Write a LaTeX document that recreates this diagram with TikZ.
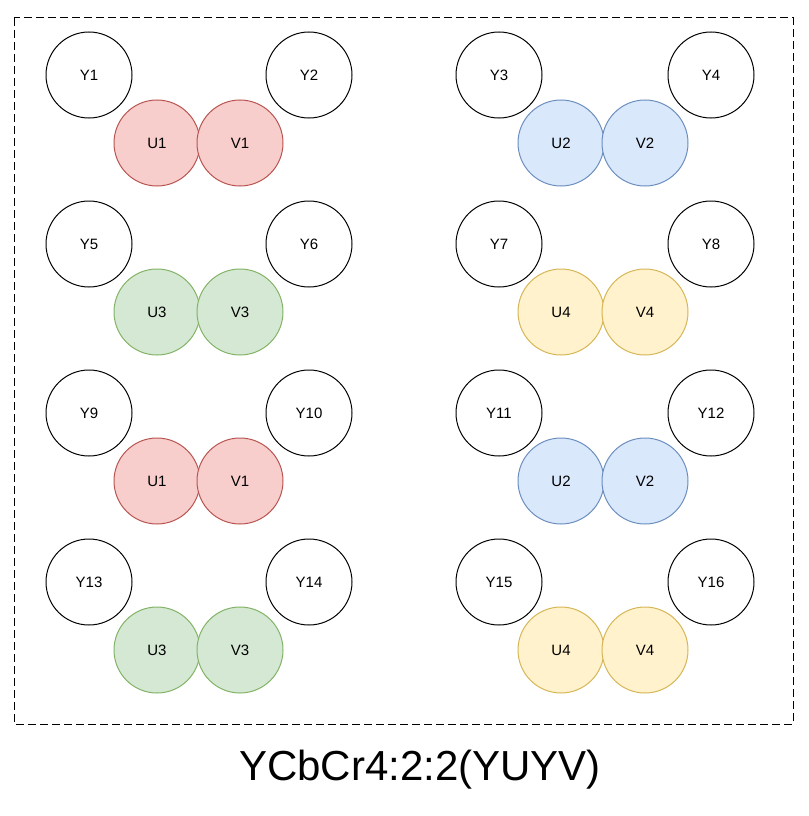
\documentclass[tikz,border=0pt]{standalone}
\usepackage{fontspec}
\setmainfont{Liberation Sans}
\begin{document}
\begin{tikzpicture}[x=1pt,y=-1pt,
 c/.style={circle,draw,line width=1pt,minimum size=86pt,inner sep=0pt,font=\fontsize{15}{18}\selectfont},
 yc/.style={c,fill=white,draw=black},
 red/.style={c,fill={rgb,255:red,248;green,206;blue,204},draw={rgb,255:red,184;green,84;blue,80}},
 blu/.style={c,fill={rgb,255:red,218;green,232;blue,252},draw={rgb,255:red,108;green,142;blue,191}},
 grn/.style={c,fill={rgb,255:red,213;green,232;blue,212},draw={rgb,255:red,130;green,179;blue,102}},
 yel/.style={c,fill={rgb,255:red,255;green,242;blue,204},draw={rgb,255:red,214;green,182;blue,86}}]
\useasboundingbox (0,0) rectangle (808,816);
\draw[dashed,line width=1pt,dash pattern=on 8pt off 4pt] (14,18) rectangle (793,724);
\foreach \r/\ya/\yb/\yc/\yd/\ls/\rs/\ua/\ub in {0/1/2/3/4/red/blu/1/2,1/5/6/7/8/grn/yel/3/4,2/9/10/11/12/red/blu/1/2,3/13/14/15/16/grn/yel/3/4}{
 \pgfmathsetmacro\yy{75+169*\r}
 \node[yc] (y\ya) at (89,\yy) {Y\ya};
 \node[yc] (y\yb) at (309,\yy) {Y\yb};
 \node[yc] (y\yc) at (499,\yy) {Y\yc};
 \node[yc] (y\yd) at (711,\yy) {Y\yd};
 \node[\ls] (u\r l) at (157,\yy+68) {U\ua};
 \node[\ls] (v\r l) at (240,\yy+68) {V\ua};
 \node[\rs] (u\r r) at (561,\yy+68) {U\ub};
 \node[\rs] (v\r r) at (645,\yy+68) {V\ub};
}
\node[font=\fontsize{42}{48}\selectfont] (title) at (420,770) {YCbCr4:2:2(YUYV)};
\end{tikzpicture}
\end{document}
